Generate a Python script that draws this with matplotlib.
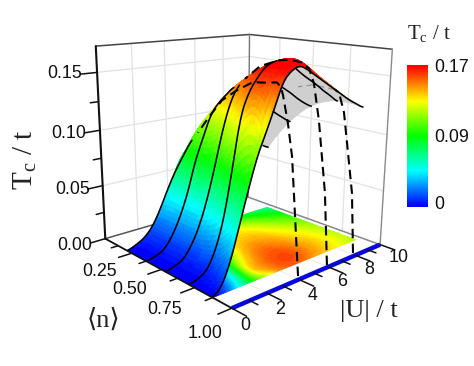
import numpy as np, matplotlib
matplotlib.use('Agg')
import matplotlib.pyplot as plt
from matplotlib.colors import LinearSegmentedColormap, to_rgba
from mpl_toolkits.mplot3d import proj3d

# ---------- data ----------
n_curves = [0.211, 0.380, 0.534, 0.711, 0.876]
U_grid = [0, .5, 1, 1.5, 2, 2.5, 3, 3.5, 4, 4.5, 5, 5.5, 6, 6.5, 7, 7.5, 8, 8.5, 9, 9.6]
Tc_n1 = [0, .003, .007, .015, .029, .046, .061, .073, .085, .092, .094, .094, .092, .090, .085, .081, .077, .073, .068, .063]
Tc_n2 = [0, .002, .005, .015, .030, .050, .077, .096, .115, .124, .130, .136, .135, .130, .124, .118, .111, .105, .100, .094]
Tc_n3 = [0, .002, .005, .015, .030, .052, .080, .110, .132, .143, .149, .150, .148, .145, .139, .134, .129, .123, .118, .113]
Tc_n4 = [0, .002, .006, .020, .044, .082, .125, .143, .153, .161, .164, .165, .161, .156, .150, .145, .140, .134, .129, .122]
Tc_n5 = [0, .006, .024, .050, .076, .100, .117, .135, .154, .161, .164, .160, .155, .150, .145, .140, .135, .130, .126, .121]
# visible U ranges of each black curve
visible_U = [[(0, 4.17), (9.11, 9.6)], [(0, 5.5), (8.28, 9.6)], [(0, 4.53), (7.37, 9.6)],
             [(0, 5.22), (6.42, 9.6)], [(0, 9.6)]]
# dashed slices at fixed U
U_arc1 = 4.228
n_arc1 = [.973, .916, .886, .852, .838, .813, .724, .657, .547, .438, .337, .246]
Tc_arc1 = [0, .096, .121, .142, .148, .151, .149, .148, .139, .128, .111, .094]
U_arc2 = 6.115
n_arc2 = [.982, .952, .899, .861, .828, .783, .706, .627, .503, .394]
Tc_arc2 = [0, .061, .119, .148, .159, .163, .164, .162, .155, .142]
U_arc3 = 8.138
n_arc3 = [.975, .950, .878, .842, .816]
Tc_arc3 = [0, .053, .120, .136, .138]
n_arc3h = [.816, .673, .572]
Tc_arc3h = [.138, .139, .135]
z_major = [0.0, 0.05, 0.10, 0.15]
z_labels = ['0.00', '0.05', '0.10', '0.15']
z_minor = [0.025, 0.075, 0.125]
n_major = [0.0, 0.25, 0.5, 0.75, 1.0]
n_labels = ['0.25', '0.50', '0.75', '1.00']
n_minor = [0.125, 0.375, 0.625, 0.875]
U_major = [0, 2, 4, 6, 8, 10]
U_minor = [1, 3, 5, 7, 9]
cbar_ticks = ['0.17', '0.09', '0']
Z_MAX = 0.172

plt.rcParams['mathtext.fontset'] = 'custom'
plt.rcParams['mathtext.rm'] = 'Liberation Serif'
plt.rcParams['mathtext.it'] = 'Liberation Serif'
W, H = 474, 366
fig = plt.figure(figsize=(W/100, H/100), dpi=100)
S = 338.55
ax = fig.add_axes([68.32/W, 43.83/H, S/W, S/H], projection='3d', computed_zorder=False)
ax.set_xlim(0, 1, view_margin=0); ax.set_ylim(0, 10, view_margin=0); ax.set_zlim(0, Z_MAX, view_margin=0)
ax.view_init(elev=14.7129, azim=-42.2974, roll=-0.3512)
ax.set_proj_type('persp', focal_length=0.3656)
ax.set_box_aspect((1.0009, 1.0154, 1))
ax.set_axis_off()
cmap = LinearSegmentedColormap.from_list('rb', ['#0000ff', '#00ffff', '#00ff00', '#ffff00', '#ff0000'], N=64)
CMAX_DOME = 0.163
CMAX_FLOOR = 0.18

# ---------- surface mesh ----------
Tc = np.array([Tc_n1, Tc_n2, Tc_n3, Tc_n4, Tc_n5])
Ug = np.array(U_grid)
Uf = np.arange(0, 9.6001, 0.1)
def smooth(col):
    f = np.interp(Uf, Ug, col)
    k = np.ones(5)/5
    g = np.convolve(np.r_[np.full(2, f[0]), f, np.full(2, f[-1])], k, 'valid')
    return g
TcU = np.array([smooth(r) for r in Tc])
nf = np.linspace(n_curves[0], n_curves[-1], 40)
Z = np.array([np.polyval(np.polyfit(n_curves, TcU[:, j], 4), nf) for j in range(len(Uf))]).T
Z = np.clip(Z, 0, None)
Xm, Ym = np.meshgrid(nf, Uf, indexing='ij')

M = ax.get_proj()
px, py, _ = proj3d.proj_transform(Xm.ravel(), Ym.ravel(), Z.ravel(), M)
px = np.asarray(px).reshape(Xm.shape); py = np.asarray(py).reshape(Xm.shape)
area = ((px[1:, :-1]-px[:-1, :-1])*(py[:-1, 1:]-py[:-1, :-1]) - (py[1:, :-1]-py[:-1, :-1])*(px[:-1, 1:]-px[:-1, :-1]))
Zc = 0.25*(Z[1:, 1:]+Z[:-1, 1:]+Z[1:, :-1]+Z[:-1, :-1])
fc = cmap(np.clip(Zc/CMAX_DOME, 0, 1))
floor_c = cmap(np.clip(Zc/CMAX_FLOOR, 0, 1))
# facets behind the crest of each fixed-n profile show their grey underside
front_sign = np.sign(area[area.shape[0]//2, 15])
start = np.searchsorted(Uf[:-1], 3.0)
for i in range(area.shape[0]):
    flips = np.nonzero(np.sign(area[i, start:]) != front_sign)[0]
    j = start + (flips[0] if len(flips) else area.shape[1])
    fc[i, j:] = to_rgba('#cfcfcf')

# ---------- walls ----------
def L(x, y, z, **k):
    ax.plot(x, y, z, solid_capstyle='round', **k)
gridc = '#e2e2e2'
for z in z_major[1:]:
    L([0, 0], [0, 10], [z, z], color=gridc, lw=.9, zorder=1)
    L([0, 1], [10, 10], [z, z], color=gridc, lw=.9, zorder=1)
for u in U_major[1:-1]:
    L([0, 0], [u, u], [0, Z_MAX], color=gridc, lw=.9, zorder=1)
    L([0, 1], [u, u], [0, 0], color='#ececec', lw=.8, zorder=1)
for v in n_major[1:-1]:
    L([v, v], [10, 10], [0, Z_MAX], color=gridc, lw=.9, zorder=1)
    L([v, v], [0, 10], [0, 0], color='#ececec', lw=.8, zorder=1)
L([0, 0, 1], [0, 10, 10], [Z_MAX]*3, color='#444444', lw=1.1, zorder=2)
L([0, 0], [10, 10], [0, Z_MAX], color='#777777', lw=1, zorder=2)
L([1, 1], [10, 10], [0, Z_MAX], color='#8a8a8a', lw=1, zorder=2)
L([0, 0], [0, 10], [0, 0], color='#555555', lw=1.1, zorder=2)
L([0, 1], [10, 10], [0, 0], color='#888888', lw=1.1, zorder=2)

def surf(zz, colors, zo):
    p = ax.plot_surface(Xm, Ym, zz, facecolors=colors, rstride=1, cstride=1, shade=False,
                        linewidth=0.4, antialiased=True, zorder=zo)
    p.set_edgecolor(colors.reshape(-1, 4))
    return p
surf(np.zeros_like(Z), floor_c, 3)
surf(Z, fc, 4)

# curves
for i, v in enumerate(n_curves):
    for a, b in visible_U[i]:
        m = (Uf >= a-1e-9) & (Uf <= b+1e-9)
        L(np.full(m.sum(), v), Uf[m], TcU[i][m], color='black', lw=1.15, zorder=6)

# dashed slices
dash = dict(color='black', lw=1.5, ls=(0, (4.5, 2.6)), zorder=7)
ax.plot(n_arc1, [U_arc1]*len(n_arc1), Tc_arc1, **dash)
ax.plot(n_arc2, [U_arc2]*len(n_arc2), Tc_arc2, **dash)
ax.plot(n_arc3, [U_arc3]*len(n_arc3), Tc_arc3, **dash)
ax.plot(n_arc3h, [U_arc3]*len(n_arc3h), Tc_arc3h, color='#999999', lw=1, ls=(0, (5, 3)), zorder=5)

# axes and ticks
L([0, 0], [0, 0], [0, Z_MAX], color='#111111', lw=1.5, zorder=8)
L([0, 1], [0, 0], [0, 0], color='#111111', lw=1.3, zorder=8)
ax.plot([1, 1], [0, 10], [0, 0], color='#0808dd', lw=3.2, zorder=8, solid_capstyle='butt')
for z in z_major:
    L([0, 0], [0, -0.85], [z, z], color='#111111', lw=1.1, zorder=8)
for z in z_minor:
    L([0, 0], [0, -0.45], [z, z], color='#111111', lw=1.1, zorder=8)
for v in n_major[1:]:
    L([v, v], [0, -0.75], [0, 0], color='#111111', lw=1.1, zorder=8)
for v in n_minor:
    L([v, v], [0, -0.4], [0, 0], color='#111111', lw=1.1, zorder=8)
for u in U_major:
    L([1, 1.09], [u, u], [0, 0], color='#111111', lw=1.1, zorder=8)
for u in U_minor:
    L([1, 1.05], [u, u], [0, 0], color='#111111', lw=1.1, zorder=8)

def lab(x, y, s, **k):
    k.setdefault('ha', 'center'); k.setdefault('va', 'center')
    fig.text(x/W, 1-y/H, s, **k)
tf = dict(family='Liberation Sans', fontsize=12.9, color='#111111')
for s, x, y in zip(z_labels, [92, 90, 86, 82], [245, 190, 133, 73]):
    lab(x, y, s, ha='right', **tf)
for s, x, y in zip(n_labels, [100, 130, 165, 205], [271, 289, 310, 334]):
    lab(x, y, s, **tf)
for u, x, y in zip(U_major, [245, 280, 313, 342, 369, 399], [326, 310, 295, 281, 269, 257]):
    lab(x, y, str(u), **tf)
sf = dict(family='Liberation Serif', color='#222222')
lab(25, 160, r'$\mathrm{T_c}$ / t', rotation=90, fontsize=21, **sf)
lab(369, 311, '|U| / t', fontsize=19, **sf)
lab(103, 320, '\u27e8n\u27e9', fontsize=19, family=['Liberation Serif', 'DejaVu Serif'], color='#222222')
lab(429, 33, r'$\mathrm{T_c}$ / t', fontsize=15, **sf)

# colour bar
cax = fig.add_axes([407/W, 1-207/H, 21/W, 142/H])
cax.imshow(np.linspace(1, 0, 64)[:, None], cmap=cmap, aspect='auto', vmin=0, vmax=1)
cax.set_axis_off()
for s, y in zip(cbar_ticks, [68, 138, 205]):
    lab(434, y, s, ha='left', **tf)

fig.savefig('out.png', dpi=100)
